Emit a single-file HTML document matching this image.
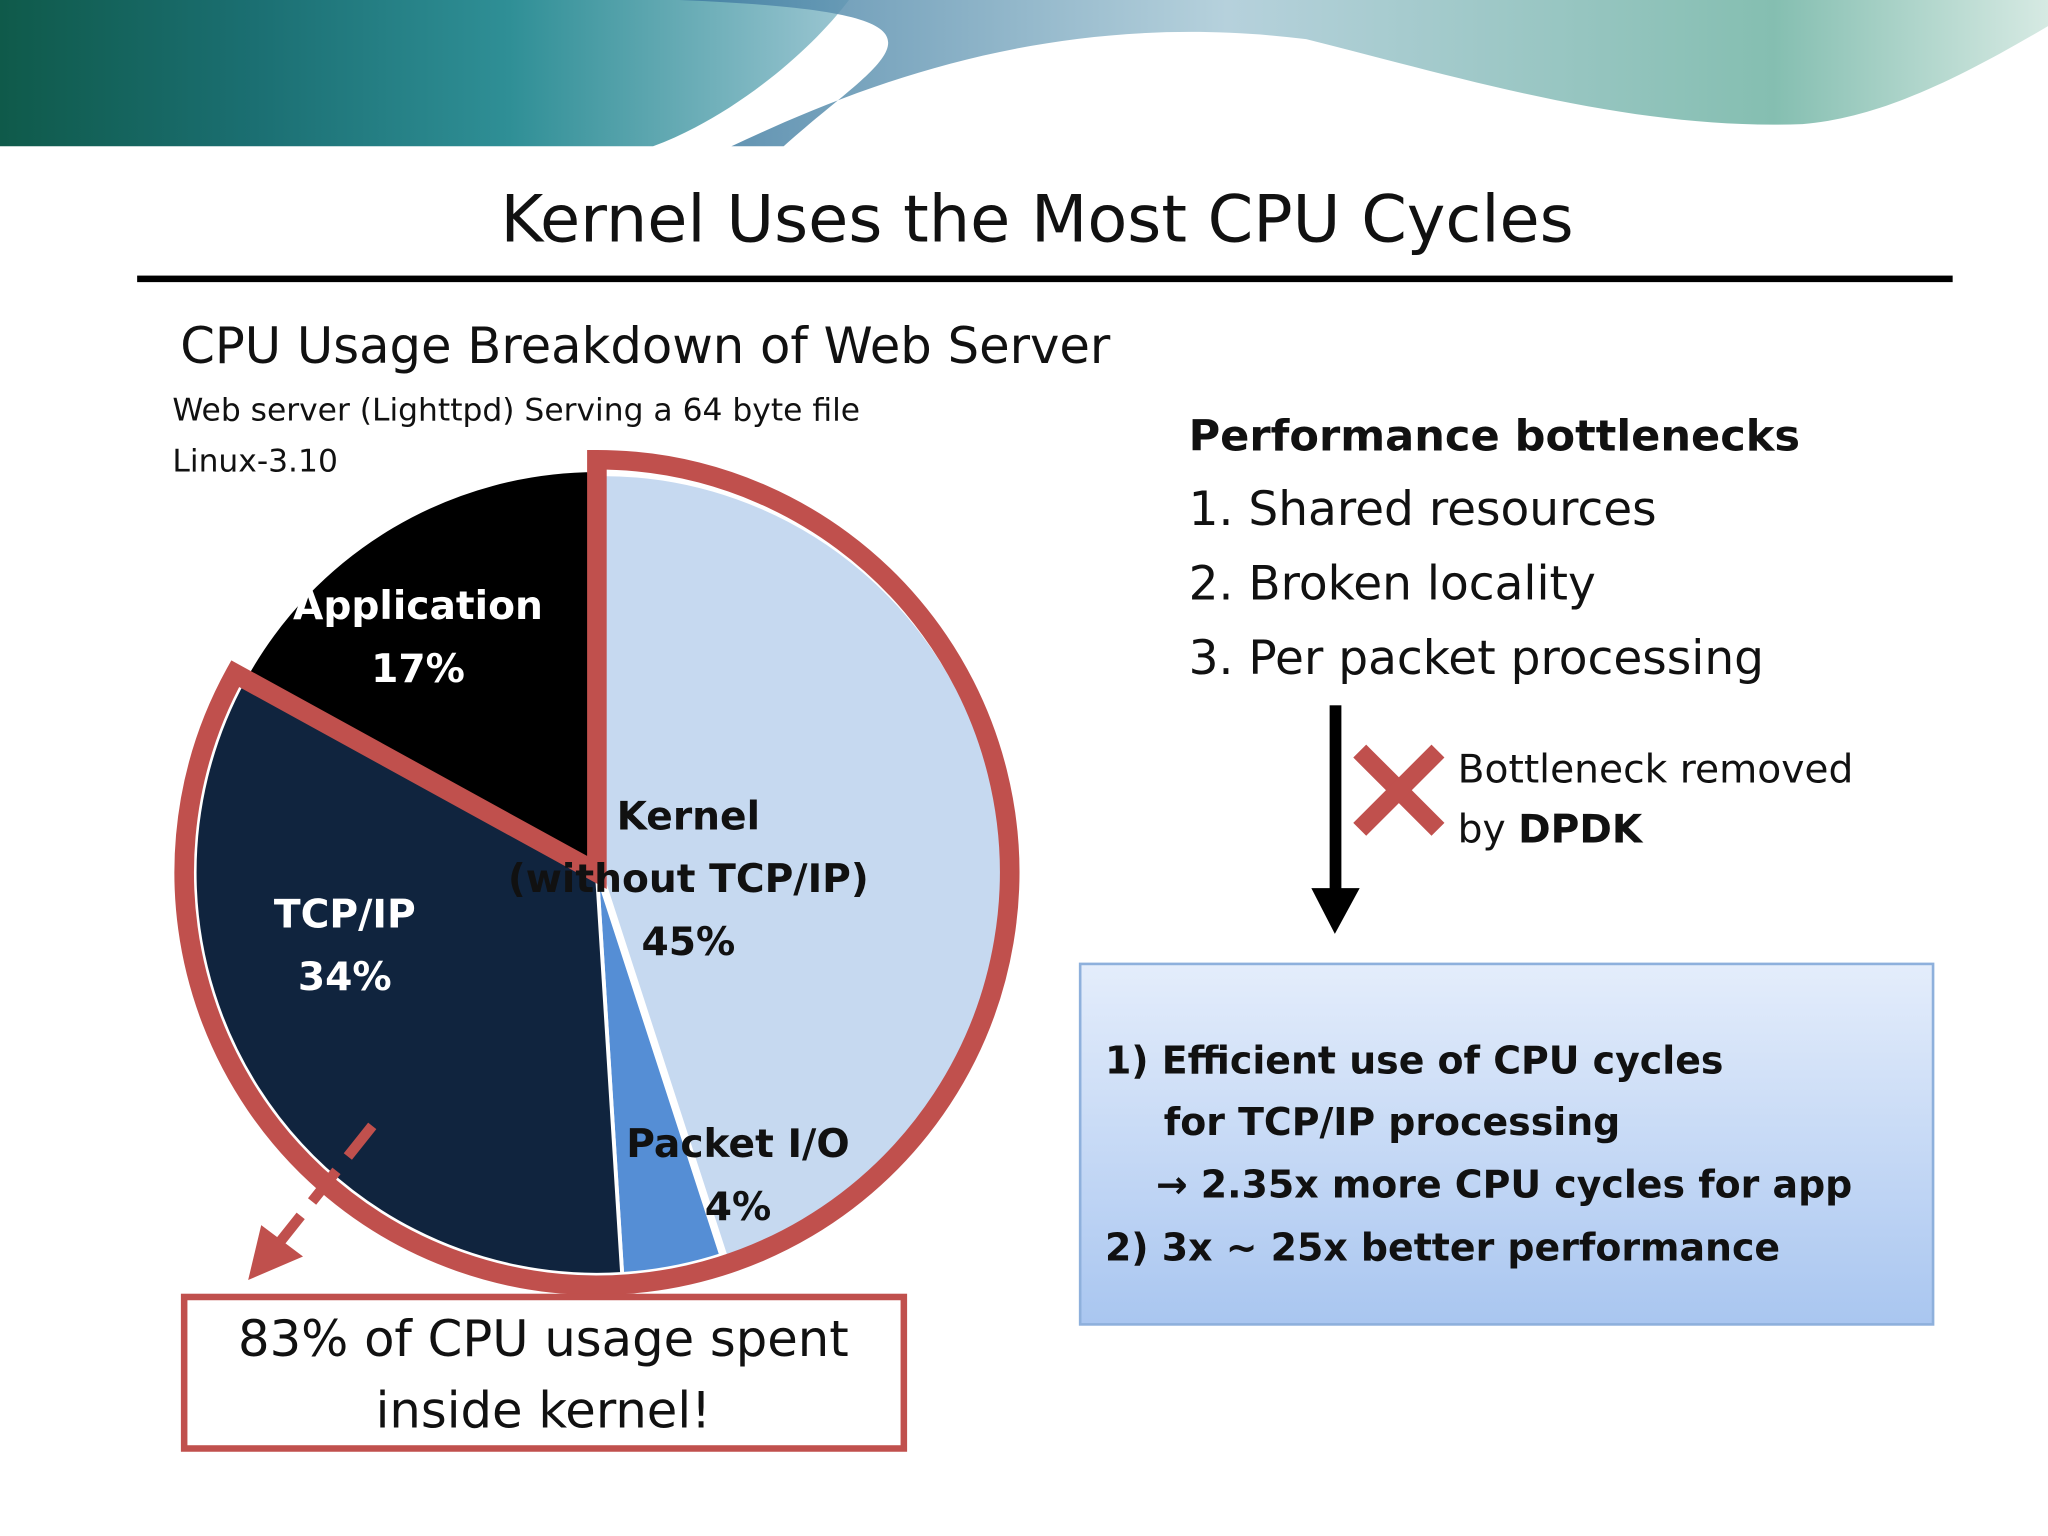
<!DOCTYPE html>
<html><head><meta charset="utf-8">
<style>
html,body{margin:0;padding:0;background:#fff;}
svg{display:block;}
text{font-family:"DejaVu Sans","Liberation Sans",sans-serif;}
</style></head>
<body>
<svg id="s" width="2048" height="1536" viewBox="0 0 1568 1176" preserveAspectRatio="none" xmlns="http://www.w3.org/2000/svg">
<defs>
<linearGradient id="bl" x1="0" y1="0" x2="1" y2="0">
<stop offset="0" stop-color="#0f5a4a"/><stop offset="0.3" stop-color="#1b6f72"/><stop offset="0.6" stop-color="#2f8f96"/><stop offset="1" stop-color="#9cc6d2"/></linearGradient>
<linearGradient id="br" x1="0" y1="0" x2="1" y2="0">
<stop offset="0" stop-color="#3d7aa0"/><stop offset="0.4" stop-color="#a9c9d6"/><stop offset="0.8" stop-color="#6fb3a3"/><stop offset="1" stop-color="#cfe6de"/></linearGradient>
<linearGradient id="bx" x1="0" y1="0" x2="0" y2="1">
<stop offset="0" stop-color="#e4edfb"/><stop offset="1" stop-color="#a9c6f0"/></linearGradient>
</defs>
<g>
<path d="M0 0 H650 C620 40 560 90 500 112 H0 Z" fill="url(#bl)"/>
<path d="M520 0 H1568 V20 C1500 60 1440 90 1380 95 C1250 100 1120 60 1000 30 C800 5 650 70 560 112 L600 112 C680 40 760 10 520 0 Z" fill="url(#br)" opacity="0.85"/>
</g>
<text x="794" y="185" font-size="50" text-anchor="middle" fill="#111">Kernel Uses the Most CPU Cycles</text>
<rect x="105" y="211" width="1390" height="5" fill="#000"/>
<text x="138" y="278" font-size="38" fill="#111">CPU Usage Breakdown of Web Server</text>
<text x="132" y="322" font-size="24" fill="#111">Web server (Lighttpd) Serving a 64 byte file</text>
<text x="132" y="361" font-size="24" fill="#111">Linux-3.10</text>
<g id="pie"></g>
<g>
<line x1="285" y1="862" x2="215" y2="950" stroke="#c0504d" stroke-width="8" stroke-dasharray="30,14"/>
<polygon points="190,980 232,962 200,938" fill="#c0504d"/>
</g>
<rect x="141" y="993" width="551" height="116" fill="#fff" stroke="#c0504d" stroke-width="5"/>
<text x="416" y="1038" font-size="38" text-anchor="middle" fill="#111">83% of CPU usage spent</text>
<text x="416" y="1093" font-size="38" text-anchor="middle" fill="#111">inside kernel!</text>
<text x="910" y="345" font-size="33" font-weight="bold" fill="#111">Performance bottlenecks</text>
<text x="910" y="402" font-size="36" fill="#111">1. Shared resources</text>
<text x="910" y="459" font-size="36" fill="#111">2. Broken locality</text>
<text x="910" y="516" font-size="36" fill="#111">3. Per packet processing</text>
<g>
<rect x="1018" y="540" width="9" height="145" fill="#000"/>
<polygon points="1004,680 1041,680 1022,715" fill="#000"/>
</g>
<g stroke="#c0504d" stroke-width="14" stroke-linecap="square">
<line x1="1046" y1="580" x2="1096" y2="630"/><line x1="1096" y1="580" x2="1046" y2="630"/>
</g>
<text x="1116" y="599" font-size="30" fill="#111">Bottleneck removed</text>
<text x="1116" y="645" font-size="30" fill="#111">by <tspan font-weight="bold">DPDK</tspan></text>
<rect x="827" y="738" width="653" height="276" fill="url(#bx)" stroke="#8eb0dc" stroke-width="2"/>
<g font-size="29" font-weight="bold" fill="#111">
<text x="846" y="822">1) Efficient use of CPU cycles</text>
<text x="891" y="869">for TCP/IP processing</text>
<text x="885" y="917">→ 2.35x more CPU cycles for app</text>
<text x="846" y="965">2) 3x ~ 25x better performance</text>
</g>
</svg>
<script>
const categories = ["Kernel (without TCP/IP)", "Packet I/O", "TCP/IP", "Application"];
const shares = [45, 4, 34, 17];
const sliceColors = ["#c6d9f0", "#558ed5", "#10243e", "#000000"];
const labelLines = [["Kernel","(without TCP/IP)","45%"],["Packet I/O","4%"],["TCP/IP","34%"],["Application","17%"]];
const inKernel = [true, true, true, false];

const NS = "http://www.w3.org/2000/svg";
const pie = document.getElementById("pie");
const cx = 457, cy = 668, R = 308;
const total = shares.reduce((a,b)=>a+b,0);
function pt(angDeg, r, ox, oy){const a=angDeg*Math.PI/180;return [cx+(ox||0)+r*Math.sin(a), cy+(oy||0)-r*Math.cos(a)];}
function arc(a0,a1,r,ox,oy){
  const p0=pt(a0,r,ox,oy),p1=pt(a1,r,ox,oy);const large=(a1-a0)>180?1:0;
  return `M${cx+(ox||0)} ${cy+(oy||0)} L${p0[0]} ${p0[1]} A${r} ${r} 0 ${large} 1 ${p1[0]} ${p1[1]} Z`;
}
let acc = 0;
shares.forEach((v,i)=>{
  const a0 = acc/total*360, a1 = (acc+v)/total*360; acc += v;
  const ox = i===0?4:0, oy = i===0?3:0;
  const p = document.createElementNS(NS,"path");
  p.setAttribute("d", arc(a0,a1,R,ox,oy));
  p.setAttribute("fill", sliceColors[i]);
  p.setAttribute("stroke", "#fff"); p.setAttribute("stroke-width", "3");
  
  
  pie.appendChild(p);
});
let k1 = 0;
shares.forEach((v,i)=>{ if(inKernel[i]) k1 += v; });
const ka1 = k1/total*360;
const o = document.createElementNS(NS,"path");
o.setAttribute("d", arc(0, ka1, R+8, 0, 0));
o.setAttribute("fill", "none");
o.setAttribute("stroke", "#c0504d"); o.setAttribute("stroke-width", "15"); o.setAttribute("stroke-linejoin","miter");


pie.appendChild(o);
const labelPos = [[527,625],[565,876],[264,700],[320,464]];
const labelColor = ["#111","#111","#fff","#fff"];
labelLines.forEach((lines,i)=>{
  lines.forEach((ln,j)=>{
    const t = document.createElementNS(NS,"text");
    t.setAttribute("x", labelPos[i][0]); t.setAttribute("y", labelPos[i][1]+j*48+10);
    t.setAttribute("text-anchor","middle"); t.setAttribute("font-size","30"); t.setAttribute("font-weight","bold");
    t.setAttribute("fill", labelColor[i]);
    t.textContent = (j===lines.length-1) ? shares[i]+"%" : ln;
    
    
    pie.appendChild(t);
  });
});
</script>
</body></html>
